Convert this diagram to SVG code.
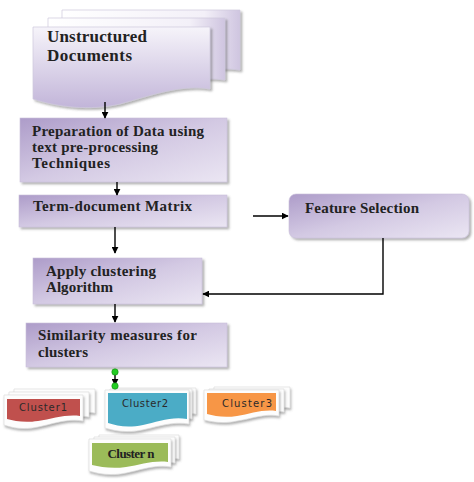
<svg xmlns="http://www.w3.org/2000/svg" width="474" height="482" viewBox="0 0 474 482">
<defs>
<linearGradient id="pg" x1="0" y1="0" x2="1" y2="1">
<stop offset="0" stop-color="#ad9cc9"/>
<stop offset="0.5" stop-color="#d3c9e3"/>
<stop offset="1" stop-color="#ebe6f3"/>
</linearGradient>
<linearGradient id="dg" x1="0" y1="0" x2="0" y2="1">
<stop offset="0" stop-color="#f6f4fa"/>
<stop offset="1" stop-color="#c2b5d9"/>
</linearGradient>
<linearGradient id="bg" x1="0" y1="0" x2="1" y2="0">
<stop offset="0" stop-color="#ffffff"/>
<stop offset="0.8" stop-color="#f3f0f8"/>
<stop offset="1" stop-color="#cfc5e0"/>
</linearGradient>
<filter id="sh" x="-10%" y="-10%" width="130%" height="140%">
<feDropShadow dx="2" dy="2" stdDeviation="1.2" flood-color="#555" flood-opacity="0.45"/>
</filter>
<filter id="csh" x="-10%" y="-10%" width="130%" height="150%">
<feDropShadow dx="1" dy="2" stdDeviation="1.2" flood-color="#666" flood-opacity="0.5"/>
</filter>
<marker id="ah" viewBox="0 0 10 10" refX="9" refY="5" markerWidth="7" markerHeight="7" orient="auto" markerUnits="userSpaceOnUse">
<path d="M0,0 L10,5 L0,10 Z" fill="#000"/>
</marker>
</defs>
<style>
.box{fill:url(#pg);stroke:#c9c0da;stroke-width:0.6;filter:url(#sh)}
.t{font-family:"Liberation Serif","DejaVu Serif",serif;font-weight:bold;fill:#222;font-size:15px}
.ct{font-family:"DejaVu Sans","Liberation Sans",sans-serif;font-size:10px;fill:#2a2a2a}
.lay{fill:#fdfdfd;stroke:#d8d8d8;stroke-width:0.6;filter:url(#csh)}
.ln{fill:none;stroke:#000;stroke-width:1.4}
</style>

<g id="unstructured-documents">
<path d="M62,10 H240 V70 C215,66 190,74 160,80 C130,86 90,84 62,76 Z" fill="url(#bg)" stroke="#cfc8dc" stroke-width="0.7" filter="url(#sh)"/>
<path d="M48,18 H225 V80 C200,76 175,84 145,90 C115,96 75,94 48,86 Z" fill="url(#bg)" stroke="#cfc8dc" stroke-width="0.7" filter="url(#sh)"/>
<path d="M33,27 H210 V89 C180,84 150,96 120,104 C90,111 58,107 33,99 Z" fill="url(#dg)" stroke="#cfc8dc" stroke-width="0.7" filter="url(#sh)"/>
<text class="t" x="47" y="42" style="font-size:17px" textLength="100">Unstructured</text>
<text class="t" x="47" y="61" style="font-size:17px" textLength="85">Documents</text>
</g>

<g id="preparation">
<rect class="box" x="20" y="118" width="207" height="64"/>
<text class="t" x="32" y="136" textLength="172">Preparation of Data using</text>
<text class="t" x="32" y="152" textLength="126">text pre-processing</text>
<text class="t" x="32" y="168" textLength="78">Techniques</text>
</g>

<g id="term-document">
<rect class="box" x="19" y="195" width="208" height="32"/>
<text class="t" x="33" y="211" textLength="159">Term-document Matrix</text>
</g>

<g id="feature-selection">
<rect class="box" x="289" y="194" width="180" height="44" rx="7"/>
<text class="t" x="305" y="213" textLength="114">Feature Selection</text>
</g>

<g id="apply-clustering">
<rect class="box" x="33" y="258" width="169" height="46"/>
<text class="t" x="46" y="276" textLength="110">Apply clustering</text>
<text class="t" x="46" y="292" textLength="67">Algorithm</text>
</g>

<g id="similarity">
<rect class="box" x="26" y="323" width="201" height="44"/>
<text class="t" x="38" y="340" textLength="159">Similarity measures for</text>
<text class="t" x="38" y="357" textLength="50">clusters</text>
</g>

<g id="cluster1">
<path class="lay" d="M14,389 H95 V413 C80,410 65,416 50,419 C35,422 24,420 14,417 Z"/>
<path class="lay" d="M9,392 H89 V417 C74,414 59,420 44,423 C29,426 19,424 9,421 Z"/>
<path class="lay" d="M4,395 H83 V421 C68,418 53,424 38,427 C23,430 13,428 4,425 Z"/>
<path d="M7,399 H80 V416 C66,414 52,419 38,421 C24,423 15,421 7,419 Z" fill="#c0504d"/>
<text class="ct" x="43" y="411" text-anchor="middle" textLength="48">Cluster1</text>
</g>

<g id="cluster2">
<path class="lay" d="M115,388 H196 V414 C180,411 165,417 150,420 C135,423 125,421 115,418 Z"/>
<path class="lay" d="M110,389 H192 V419 C176,416 161,422 146,425 C131,428 120,426 110,423 Z"/>
<path class="lay" d="M105,390 H189 V424 C172,421 157,427 142,430 C127,433 115,431 105,428 Z"/>
<path d="M108,393 H187 V419 C172,416 157,422 143,425 C128,428 117,426 108,423 Z" fill="#4bacc6"/>
<text class="ct" x="145" y="407" text-anchor="middle" textLength="46">Cluster2</text>
</g>

<g id="cluster3">
<path class="lay" d="M214,387 H290 V408 C276,405 262,411 248,413 C234,416 224,414 214,412 Z"/>
<path class="lay" d="M209,389 H284 V412 C270,409 256,415 242,417 C228,420 218,418 209,416 Z"/>
<path class="lay" d="M204,390 H279 V416 C265,413 251,419 237,421 C223,424 213,422 204,420 Z"/>
<path d="M207,393 H276 V411 C263,409 250,414 237,416 C224,418 215,416 207,414 Z" fill="#f79646"/>
<text class="ct" x="247" y="407" text-anchor="middle" textLength="50">Cluster3</text>
</g>

<g id="cluster-n">
<path class="lay" d="M99,435 H179 V459 C164,456 149,462 134,465 C119,468 109,466 99,463 Z"/>
<path class="lay" d="M94,437 H175 V463 C160,460 145,466 130,469 C115,472 104,470 94,467 Z"/>
<path class="lay" d="M89,439 H171 V467 C156,464 141,470 126,473 C111,476 99,474 89,471 Z"/>
<path d="M92,443 H168 V462 C154,460 140,465 126,467 C112,469 101,467 92,465 Z" fill="#9bbb59"/>
<text x="131" y="458" text-anchor="middle" font-family="'Liberation Serif','DejaVu Serif',serif" font-weight="bold" font-size="13" fill="#222" textLength="47">Cluster n</text>
</g>

<g id="connectors">
<line class="ln" x1="105" y1="102" x2="105" y2="118" marker-end="url(#ah)"/>
<line class="ln" x1="117" y1="182" x2="117" y2="195" marker-end="url(#ah)"/>
<line class="ln" x1="115" y1="227" x2="115" y2="253" marker-end="url(#ah)"/>
<line class="ln" x1="253" y1="216" x2="288" y2="216" marker-end="url(#ah)"/>
<polyline class="ln" points="383,238 383,294 203,294" marker-end="url(#ah)"/>
<line class="ln" x1="115" y1="304" x2="115" y2="322" marker-end="url(#ah)"/>
<line class="ln" x1="115" y1="372" x2="115" y2="385" marker-end="url(#ah)"/>
<circle cx="115" cy="372" r="3.2" fill="#22cc22" stroke="#118811" stroke-width="0.6"/>
<circle cx="115" cy="386" r="3.2" fill="#22cc22" stroke="#118811" stroke-width="0.6"/>
</g>
</svg>
